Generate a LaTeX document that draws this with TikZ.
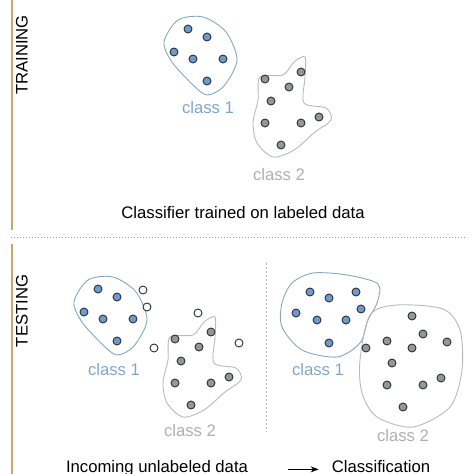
\documentclass[tikz,border=0pt]{standalone}
\usepackage{fontspec}
\setmainfont{Liberation Sans}
\usepackage{tikz}
\usetikzlibrary{positioning,arrows.meta}

\definecolor{tanline}{RGB}{198,168,118}
\definecolor{blueline}{RGB}{135,165,195}
\definecolor{grayline}{RGB}{185,185,185}
\definecolor{dotblue}{RGB}{110,155,205}
\definecolor{dotgray}{RGB}{150,150,150}
\definecolor{dotedge}{RGB}{40,48,58}
\definecolor{labelblue}{RGB}{130,165,205}
\definecolor{labelgray}{RGB}{175,175,175}

\begin{document}
\begin{tikzpicture}[
        x=1pt, y=-1pt,
        every node/.style={font=\fontsize{16.7}{20}\selectfont, inner sep=0pt},
        blueblob/.style={draw=blueline, line width=0.9pt},
        grayblob/.style={draw=grayline, line width=0.9pt},
        bluedot/.style={draw=dotedge, fill=dotblue, line width=0.9pt},
        graydot/.style={draw=dotedge, fill=dotgray, line width=0.9pt},
        newdot/.style={draw=dotedge, fill=white, line width=0.9pt},
        bluelabel/.style={text=labelblue},
        graylabel/.style={text=labelgray},
        phase/.style={rotate=90}
      ]
  \useasboundingbox (0,0) rectangle (474,474);

  % side bars and separators
  \draw[tanline, line width=2pt] (12,0) -- (12,230);
  \draw[tanline, line width=2pt] (12,244) -- (12,474);
  \draw[dotgray, dotted, line width=1pt] (11,237) -- (466,237);
  \draw[grayline, dash pattern=on 2pt off 2pt, line width=0.8pt] (266,263) -- (266,432);

  \node[phase] (training) at (22,55) {TRAINING};
  \node[phase] (testing) at (22,311) {TESTING};

  % training clusters, repeated shifted for the incoming data
  \foreach \dx/\dy in {0/0, -90/260} {
    \begin{scope}[shift={(\dx,\dy)}]
      \draw[blueblob] plot[smooth cycle] coordinates
        {(164,42) (178,20) (203,17) (226,32) (237,60) (224,86) (207,95) (192,84) (172,62)};
      \draw[grayblob] plot[smooth cycle, tension=0.5] coordinates
        {(260,77) (283,75) (294,62) (305,57) (305,77) (304,103) (326,108) (331,120)
         (315,132) (294,150) (273,157) (257,143) (253,123) (258,100)};
      \foreach \px/\py in {188/29, 207/37, 174/52, 193/59, 223/59, 207/81}
        \draw[bluedot] (\px,\py) circle[radius=4pt];
      \foreach \px/\py in {265/79, 289/87, 301/72, 271/101, 265/123, 301/123, 319/117, 281/145}
        \draw[graydot] (\px,\py) circle[radius=4pt];
    \end{scope}
  }

  \node[bluelabel] (trainone) at (208,108) {class 1};
  \node[graylabel] (traintwo) at (279,175) {class 2};
  \node (trained) at (243,213) {Classifier trained on labeled data};

  % incoming unlabeled points
  \foreach \px/\py in {143/290, 147/307, 198/313, 154/348, 239/343}
    \draw[newdot] (\px,\py) circle[radius=4pt];
  \node[bluelabel] (testone) at (114,370) {class 1};
  \node[graylabel] (testtwo) at (190,431) {class 2};

  % classification result
  \draw[blueblob] plot[smooth cycle] coordinates
    {(292,283) (313,273) (347,275) (378,284) (377,303) (368,320) (360,343)
     (337,357) (302,350) (282,327) (282,303)};
  \draw[grayblob] plot[smooth cycle] coordinates
    {(370,315) (397,305) (443,309) (460,330) (462,370) (450,407) (413,427)
     (377,417) (362,393) (360,360)};
  \foreach \px/\py in {310/292, 329/298, 356/292, 296/313, 317/320, 346/320, 361/309, 329/343}
    \draw[bluedot] (\px,\py) circle[radius=4pt];
  \foreach \px/\py in {412/316, 423/334, 447/342, 387/341, 412/348, 366/348, 392/363,
                       441/378, 387/385, 423/385, 403/407}
    \draw[graydot] (\px,\py) circle[radius=4pt];
  \node[bluelabel] (resone) at (318,370) {class 1};
  \node[graylabel] (restwo) at (403,436) {class 2};

  \node[anchor=base] (incoming) at (157,472) {Incoming unlabeled data};
  \node[anchor=base] (classif) at (381,472) {Classification};
  \draw[-{Stealth[length=8pt,width=6pt]}, line width=0.8pt, shorten <=40pt, shorten >=13pt]
    (incoming.mid east) -- (classif.mid west);

\end{tikzpicture}
\end{document}
